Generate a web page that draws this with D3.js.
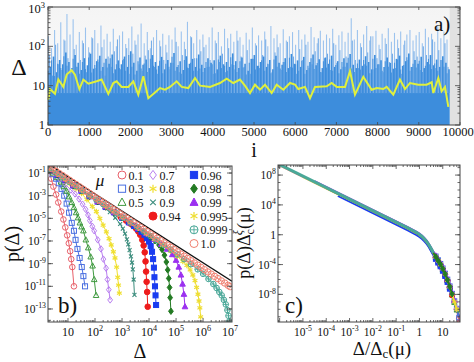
<!DOCTYPE html>
<html>
<head>
<meta charset="utf-8">
<script src="https://cdnjs.cloudflare.com/ajax/libs/d3/7.8.5/d3.min.js"></script>
<style>
body { margin: 0; background: #fff; }
svg { display: block; }
text { font-family: "Liberation Serif", "DejaVu Serif", serif; fill: #111; }
</style>
</head>
<body>
<svg id="chart" width="474" height="362"></svg>
<script>
// ---------------- data ----------------
// panel a: step index i vs Delta
var nSteps = 9750;
var binWidth = 75;
// tallest spike in each bin of 75 steps
var peakVals = [180, 90, 260, 120, 410, 150, 660, 200, 490, 110,
  230, 140, 300, 95, 170, 260, 120, 340, 150, 210,
  130, 280, 100, 190, 240, 115, 160, 320, 140, 200,
  380, 120, 230, 90, 170, 260, 140, 210, 110, 190,
  150, 300, 100, 240, 130, 420, 180, 120, 260, 150,
  200, 110, 170, 300, 140, 230, 100, 280, 160, 210,
  130, 250, 170, 110, 220, 150, 300, 120, 190, 140,
  240, 100, 330, 160, 200, 120, 270, 140, 180, 230,
  110, 260, 150, 200, 130, 310, 170, 120, 250, 140,
  200, 160, 280, 110, 190, 240, 130, 220, 520, 150,
  260, 120, 200, 330, 140, 180, 250, 110, 210, 160,
  290, 130, 220, 150, 240, 110, 200, 260, 140, 190,
  230, 120, 280, 170, 210, 130, 320, 160, 240, 150];
// second-tallest spike in each bin
var subVals = [60, 18, 110, 35, 25, 140, 50, 20, 85, 30,
  45, 120, 22, 70, 160, 28, 40, 95, 18, 55,
  30, 75, 150, 26, 48, 90, 20, 65, 110, 35,
  24, 58, 80, 140, 30, 20, 100, 45, 70, 26,
  38, 130, 22, 60, 85, 28, 170, 50, 24, 75,
  95, 30, 45, 20, 120, 40, 65, 22, 90, 35,
  26, 140, 55, 30, 80, 20, 48, 105, 28, 60,
  150, 35, 22, 70, 95, 25, 40, 130, 30, 55,
  20, 85, 45, 110, 28, 35, 75, 160, 22, 50,
  65, 25, 120, 38, 80, 30, 55, 24, 140, 45,
  28, 95, 35, 70, 180, 26, 50, 85, 22, 115,
  40, 65, 28, 90, 20, 140, 45, 30, 75, 55,
  25, 100, 60, 35, 150, 28, 80, 45, 120, 30];
// typical (dense) spike height in each bin
var midVals = [30, 55, 22, 45, 35, 70, 40, 28, 60, 38,
  25, 50, 33, 65, 27, 42, 58, 30, 48, 36,
  62, 26, 44, 35, 55, 30, 75, 38, 24, 52,
  34, 46, 28, 60, 40, 32, 54, 26, 45, 38,
  68, 30, 42, 25, 56, 36, 48, 30, 62, 34,
  28, 50, 38, 44, 26, 58, 35, 40, 30, 66,
  42, 28, 52, 36, 24, 48, 60, 32, 40, 55,
  30, 45, 26, 58, 38, 34, 50, 28, 64, 36,
  44, 30, 54, 25, 40, 62, 33, 47, 28, 52,
  36, 58, 30, 42, 26, 50, 38, 64, 34, 28,
  46, 32, 56, 40, 26, 60, 35, 44, 30, 52,
  38, 27, 48, 58, 32, 42, 66, 30, 45, 36,
  54, 28, 40, 60, 33, 46, 30, 56, 38, 26];
var baseLevel = 6.5;
// running average (yellow line)
var avgI = [8, 49, 170, 251, 372, 453, 574, 655, 761, 858, 979, 1181, 1302, 1464, 1585, 1666,
  1788, 1950, 2071, 2192, 2314, 2435, 2597, 2718, 2840, 2961, 3123, 3244, 3406, 3568, 3689,
  3811, 3932, 4175, 4337, 4498, 4660, 4780, 4903, 5024, 5146, 5267, 5429, 5550, 5712, 5874,
  5995, 6075, 6238, 6359, 6480, 6764, 6885, 7007, 7209, 7330, 7451, 7653, 7856, 7977, 8138,
  8220, 8381, 8543, 8665, 8786, 8988, 9191, 9312, 9353, 9474, 9555, 9636, 9717];
var avgVal = [4.4, 8.2, 6.2, 14.3, 9.3, 19.1, 24.6, 19.1, 8.2, 14.3, 11.2, 12.9, 14.3, 6.2, 11.7, 12.9,
  9.3, 9.3, 12.9, 5.9, 17.3, 4.8, 6.7, 8.7, 7.9, 9.3, 12.9, 9.3, 8.7, 15.7, 10,
  9.6, 9.3, 11.7, 15.1, 11.7, 14.3, 10, 6.5, 10.6, 7.9, 10.6, 6.5, 10.6, 7.9, 11.7,
  10.6, 8.2, 9.3, 4.8, 9.3, 9.6, 11.7, 9.3, 9.3, 23.3, 5.9, 16.7, 7.9, 8.7, 8.2,
  9.3, 5.9, 14.3, 8.2, 11.7, 10.6, 10.6, 12.2, 6.5, 15.7, 7.2, 9.3, 2.9];

// panel b: [log10 Delta, log10 p(Delta)] for each mu
var muLabels = ["0.1", "0.3", "0.5", "0.7", "0.8", "0.9", "0.94", "0.96", "0.98", "0.99", "0.995", "0.999", "1.0"];
var mu01 = [[0.3,-0.8],[0.38,-1.5],[0.46,-2.2],[0.56,-2.9],[0.64,-3.6],[0.75,-4.4],[0.83,-5.1],[0.9,-5.8],
  [0.97,-6.5],[1.03,-7.2],[1.08,-7.9],[1.12,-8.6],[1.16,-9.3],[1.22,-11.0]];
var mu03 = [[0.3,-0.7],[0.43,-1.1],[0.56,-1.5],[0.66,-1.9],[0.76,-2.4],[0.86,-3.0],[0.95,-3.7],[1.04,-4.5],
  [1.14,-5.4],[1.22,-6.1],[1.28,-6.9],[1.35,-7.7],[1.43,-8.5],[1.51,-9.3],[1.57,-10.1],[1.63,-11.0]];
var mu05 = [[0.3,-0.7],[0.45,-1.0],[0.6,-1.4],[0.74,-1.8],[0.85,-2.2],[0.95,-2.6],[1.04,-3.1],[1.14,-3.6],
  [1.22,-4.05],[1.3,-4.5],[1.37,-4.95],[1.44,-5.4],[1.5,-5.75],[1.57,-6.1],[1.66,-6.9],[1.75,-7.6],
  [1.84,-8.4],[1.91,-9.2],[1.97,-10.4],[2.04,-11.8]];
var mu07 = [[0.3,-0.7],[0.5,-1.05],[0.7,-1.5],[0.9,-2.0],[1.11,-2.5],[1.26,-2.85],[1.41,-3.3],[1.54,-3.75],
  [1.65,-4.2],[1.74,-4.7],[1.81,-5.2],[1.9,-5.7],[1.97,-6.1],[2.1,-6.9],[2.22,-7.7],[2.31,-8.6],
  [2.41,-9.4],[2.46,-10.4],[2.51,-11.3],[2.56,-12.2]];
var mu08 = [[0.3,-0.7],[0.55,-1.1],[0.8,-1.5],[1.05,-1.92],[1.3,-2.38],[1.5,-2.8],[1.7,-3.35],[1.9,-3.95],
  [2.05,-4.4],[2.18,-5.0],[2.3,-5.6],[2.42,-6.2],[2.52,-6.8],[2.6,-7.35],[2.68,-7.95],[2.74,-8.5],
  [2.8,-9.3],[2.84,-10.2],[2.87,-10.9],[2.9,-11.6]];
var mu09 = [[0.3,-0.7],[0.6,-1.15],[0.9,-1.62],[1.2,-2.1],[1.5,-2.58],[1.8,-3.07],[2.1,-3.57],[2.35,-4.02],
  [2.55,-4.45],[2.75,-4.95],[2.93,-5.5],[3.03,-5.9],[3.11,-6.35],[3.18,-6.85],[3.23,-7.3],[3.28,-7.8],
  [3.33,-8.35],[3.37,-8.9],[3.4,-9.5],[3.43,-10.4],[3.46,-11.75]];
var mu094 = [[0.3,-0.7],[0.6,-1.15],[0.9,-1.62],[1.2,-2.1],[1.5,-2.57],[1.8,-3.05],[2.1,-3.52],[2.4,-4.0],
  [2.7,-4.47],[2.95,-4.88],[3.15,-5.2],[3.3,-5.45],[3.42,-5.68],[3.52,-5.9],[3.6,-6.15],[3.67,-6.45],
  [3.75,-6.9],[3.8,-7.4],[3.84,-8.0],[3.87,-8.8],[3.89,-9.7],[3.91,-10.6],[3.93,-11.5],[3.95,-12.8]];
var mu096 = [[0.3,-0.7],[0.6,-1.15],[0.9,-1.62],[1.2,-2.1],[1.5,-2.57],[1.8,-3.05],[2.1,-3.52],[2.4,-4.0],
  [2.7,-4.47],[3.0,-4.95],[3.25,-5.35],[3.45,-5.68],[3.6,-5.95],[3.72,-6.2],[3.83,-6.45],[3.92,-6.75],
  [4.0,-7.05],[4.06,-7.45],[4.11,-7.95],[4.15,-8.6],[4.18,-9.35],[4.2,-10.2],[4.22,-11.0],[4.24,-11.8],[4.26,-12.65]];
var mu098 = [[0.3,-0.7],[0.6,-1.15],[0.9,-1.62],[1.2,-2.1],[1.5,-2.57],[1.8,-3.05],[2.1,-3.52],[2.4,-4.0],
  [2.7,-4.47],[3.0,-4.95],[3.3,-5.42],[3.6,-5.9],[3.85,-6.3],[4.05,-6.65],[4.22,-6.98],[4.37,-7.35],
  [4.48,-7.75],[4.57,-8.25],[4.64,-8.85],[4.69,-9.55],[4.73,-10.3],[4.76,-11.1],[4.78,-12.0],[4.81,-13.2]];
var mu099 = [[0.3,-0.68],[0.6,-1.13],[0.9,-1.6],[1.2,-2.07],[1.5,-2.55],[1.8,-3.02],[2.1,-3.5],[2.4,-3.97],
  [2.7,-4.45],[3.0,-4.92],[3.3,-5.4],[3.6,-5.87],[3.9,-6.35],[4.2,-6.85],[4.45,-7.28],[4.67,-7.72],
  [4.86,-8.2],[5.0,-8.7],[5.1,-9.3],[5.18,-10.0],[5.24,-10.8],[5.29,-11.7],[5.33,-12.8]];
var mu0995 = [[0.3,-0.65],[0.6,-1.1],[0.9,-1.57],[1.2,-2.05],[1.5,-2.52],[1.8,-3.0],[2.1,-3.47],[2.4,-3.95],
  [2.7,-4.42],[3.0,-4.9],[3.3,-5.38],[3.6,-5.86],[3.9,-6.35],[4.2,-6.85],[4.5,-7.36],[4.8,-7.88],
  [5.05,-8.35],[5.25,-8.8],[5.4,-9.15],[5.52,-9.55],[5.62,-10.0],[5.7,-10.5],[5.76,-11.1],[5.81,-11.7],
  [5.85,-12.3],[5.88,-12.9],[5.91,-13.7]];
var mu0999 = [[0.3,-0.6],[0.55,-1.0],[0.8,-1.38],[1.05,-1.78],[1.3,-2.17],[1.55,-2.57],[1.8,-2.96],[2.05,-3.36],
  [2.3,-3.75],[2.55,-4.15],[2.8,-4.55],[3.05,-4.95],[3.3,-5.35],[3.55,-5.75],[3.8,-6.15],[4.05,-6.55],
  [4.3,-6.95],[4.55,-7.35],[4.8,-7.76],[5.05,-8.18],[5.3,-8.6],[5.55,-9.05],[5.8,-9.5],[6.0,-9.9],
  [6.2,-10.35],[6.38,-10.8],[6.5,-11.15],[6.6,-11.5],[6.69,-11.8],[6.77,-12.2],[6.84,-12.6],[6.9,-13.1],
  [6.94,-13.6],[6.97,-14.1]];
var mu10 = [[0.3,-0.44],[0.425,-0.64],[0.55,-0.84],[0.675,-1.04],[0.8,-1.23],[0.925,-1.43],[1.05,-1.63],
  [1.175,-1.83],[1.3,-2.02],[1.425,-2.22],[1.55,-2.42],[1.675,-2.62],[1.8,-2.81],[1.925,-3.01],[2.05,-3.21],
  [2.175,-3.41],[2.3,-3.6],[2.425,-3.8],[2.55,-4.0],[2.675,-4.2],[2.8,-4.39],[2.925,-4.59],[3.05,-4.79],
  [3.175,-4.99],[3.3,-5.18],[3.425,-5.38],[3.55,-5.58],[3.675,-5.78],[3.8,-5.97],[3.925,-6.17],[4.05,-6.37],
  [4.175,-6.57],[4.3,-6.76],[4.425,-6.96],[4.55,-7.16],[4.675,-7.36],[4.8,-7.55],[4.925,-7.75],[5.05,-7.95],
  [5.175,-8.15],[5.3,-8.34],[5.425,-8.54],[5.55,-8.74],[5.675,-8.94],[5.8,-9.13],[5.925,-9.33],[6.05,-9.53],
  [6.175,-9.73],[6.3,-9.92],[6.425,-10.12],[6.55,-10.32],[6.675,-10.52],[6.8,-10.71],[6.925,-10.91],[7.0,-11.03]];
var bSeries = [mu01, mu03, mu05, mu07, mu08, mu09, mu094, mu096, mu098, mu099, mu0995, mu0999, mu10];
// black reference power law (log10 Delta, log10 p)
var powerLaw = [[0.26, -0.2], [7.07, -10.55]];

// panel c: collapsed master curve (log10 x, log10 y)
var masterX = [-6.06, -5.5, -5, -4.5, -4, -3.5, -3, -2.5, -2, -1.5, -1, -0.5, -0.3, -0.12, 0, 0.1, 0.2,
  0.3, 0.4, 0.5, 0.6, 0.7, 0.8, 0.9, 1.0, 1.1, 1.2, 1.3, 1.4, 1.5, 1.6, 1.7, 1.74];
var masterY = [9.39, 8.53, 7.76, 6.99, 6.22, 5.45, 4.68, 3.91, 3.14, 2.37, 1.6, 0.83, 0.5, 0.2, -0.05, -0.3, -0.6,
  -0.95, -1.4, -1.95, -2.5, -3.0, -3.5, -4.0, -4.6, -5.3, -6.1, -7.0, -8.0, -9.0, -10.0, -11.2, -11.7];
// log10 x range covered by each mu, and its small vertical spread
var cStart = [-0.3, -0.5, -1, -1.5, -2, -2.5, -3, -3.5, -4, -4.5, -5, -6.06, -6.06];
var cEnd = [1.74, 1.7, 1.6, 1.6, 1.5, 1.5, 1.4, 1.3, 1.4, 1.5, 1.6, 0.6, 1.74];
var cOffset = [0, 0.1, -0.1, 0.15, 0.05, -0.05, -0.1, -0.25, 0.05, 0.2, 0, 0.1, 0];

// ---------------- styles ----------------
var styles = [
  {c: "#e8606a", m: "circle", f: false},
  {c: "#4a6fe0", m: "square", f: false},
  {c: "#3f9a3f", m: "triangle", f: false},
  {c: "#b97ff0", m: "diamond", f: false},
  {c: "#f0e030", m: "asterisk", f: false},
  {c: "#3a8c7c", m: "x", f: false},
  {c: "#ee1c1c", m: "circle", f: true},
  {c: "#1a3cf0", m: "square", f: true},
  {c: "#237a23", m: "diamond", f: true},
  {c: "#9b30f0", m: "triangle", f: true},
  {c: "#eedd30", m: "asterisk", f: false},
  {c: "#4aa898", m: "oplus", f: false},
  {c: "#f08070", m: "circle", f: false}
];
var legendCol = [0, 0, 0, 1, 1, 1, 1, 2, 2, 2, 2, 2, 2];
var legendRow = [0, 1, 2, 0, 1, 2, 3, 0, 1, 2, 3, 4, 5];

var svg = d3.select("#chart");
var defs = svg.append("defs");
var grad = defs.append("linearGradient").attr("id", "bgA").attr("x1", 0).attr("y1", 0).attr("x2", 0).attr("y2", 1);
grad.append("stop").attr("offset", "0%").attr("stop-color", "#f4f4f4");
grad.append("stop").attr("offset", "100%").attr("stop-color", "#ffffff");

function clip(id, x, y, w, h) {
  defs.append("clipPath").attr("id", id).append("rect").attr("x", x).attr("y", y).attr("width", w).attr("height", h);
}

function powLabel(g, x, y, e, anchor, size) {
  var t = g.append("text").attr("x", x).attr("y", y).attr("text-anchor", anchor).attr("font-size", size);
  if (e === 0) { t.text("1"); return; }
  if (e === 1) { t.text("10"); return; }
  t.append("tspan").text("10");
  t.append("tspan").attr("dy", -size * 0.42).attr("font-size", size * 0.68).text(e < 0 ? "-" + (-e) : "" + e);
}

function marker(g, type, x, y, r, color, filled) {
  var fill = filled ? color : "none";
  if (type === "circle") {
    g.append("circle").attr("cx", x).attr("cy", y).attr("r", r).attr("fill", fill).attr("stroke", color).attr("stroke-width", 1);
  } else if (type === "square") {
    g.append("rect").attr("x", x - r * 0.9).attr("y", y - r * 0.9).attr("width", r * 1.8).attr("height", r * 1.8)
      .attr("fill", fill).attr("stroke", color).attr("stroke-width", 1);
  } else if (type === "triangle") {
    g.append("path").attr("d", "M" + x + "," + (y - r * 1.1) + "L" + (x + r) + "," + (y + r * 0.75) + "L" + (x - r) + "," + (y + r * 0.75) + "Z")
      .attr("fill", fill).attr("stroke", color).attr("stroke-width", 1);
  } else if (type === "diamond") {
    g.append("path").attr("d", "M" + x + "," + (y - r * 1.15) + "L" + (x + r * 0.85) + "," + y + "L" + x + "," + (y + r * 1.15) + "L" + (x - r * 0.85) + "," + y + "Z")
      .attr("fill", fill).attr("stroke", color).attr("stroke-width", 1);
  } else if (type === "asterisk") {
    [90, 30, -30].forEach(function(a) {
      var dx = r * Math.cos(a * Math.PI / 180), dy = r * Math.sin(a * Math.PI / 180);
      g.append("line").attr("x1", x - dx).attr("y1", y - dy).attr("x2", x + dx).attr("y2", y + dy)
        .attr("stroke", color).attr("stroke-width", 1.2);
    });
  } else if (type === "x") {
    [45, -45].forEach(function(a) {
      var dx = r * Math.cos(a * Math.PI / 180), dy = r * Math.sin(a * Math.PI / 180);
      g.append("line").attr("x1", x - dx).attr("y1", y - dy).attr("x2", x + dx).attr("y2", y + dy)
        .attr("stroke", color).attr("stroke-width", 1.1);
    });
  } else if (type === "oplus") {
    g.append("circle").attr("cx", x).attr("cy", y).attr("r", r).attr("fill", "none").attr("stroke", color).attr("stroke-width", 1);
    g.append("path").attr("d", "M" + (x - r) + "," + y + "H" + (x + r) + "M" + x + "," + (y - r) + "V" + (y + r))
      .attr("stroke", color).attr("stroke-width", 0.9);
  }
}

// inward log ticks on both sides of a frame
function logTicksY(g, scale, x0, x1, e0, e1, minor, majLen) {
  for (var e = e0; e <= e1; e++) {
    var ms = minor ? [1, 2, 3, 4, 5, 6, 7, 8, 9] : [1];
    ms.forEach(function(m) {
      var v = m * Math.pow(10, e);
      var y = scale(v);
      var d = scale.domain();
      if (v < d[0] || v > d[1]) return;
      var len = m === 1 ? majLen : majLen / 2;
      g.append("line").attr("x1", x0).attr("x2", x0 + len).attr("y1", y).attr("y2", y);
      g.append("line").attr("x1", x1).attr("x2", x1 - len).attr("y1", y).attr("y2", y);
    });
  }
}
function logTicksX(g, scale, y0, y1, e0, e1, minor, majLen) {
  for (var e = e0; e <= e1; e++) {
    var ms = minor ? [1, 2, 3, 4, 5, 6, 7, 8, 9] : [1];
    ms.forEach(function(m) {
      var v = m * Math.pow(10, e);
      var x = scale(v);
      var d = scale.domain();
      if (v < d[0] || v > d[1]) return;
      var len = m === 1 ? majLen : majLen / 2;
      g.append("line").attr("y1", y1).attr("y2", y1 - len).attr("x1", x).attr("x2", x);
      g.append("line").attr("y1", y0).attr("y2", y0 + len).attr("x1", x).attr("x2", x);
    });
  }
}

// ---------------- panel a ----------------
var A = {x0: 48, x1: 460, y0: 7, y1: 125};
var ax = d3.scaleLinear().domain([0, 10000]).range([A.x0, A.x1]);
var ay = d3.scaleLog().domain([1, 1000]).range([A.y1, A.y0]);
var ga = svg.append("g");
ga.append("rect").attr("x", A.x0).attr("y", A.y0).attr("width", A.x1 - A.x0).attr("height", A.y1 - A.y0).attr("fill", "url(#bgA)");
ga.append("rect").attr("x", ax(nSteps)).attr("y", A.y0).attr("width", ax(10000) - ax(nSteps)).attr("height", A.y1 - A.y0)
  .attr("fill", "#e2e2e2");
ga.append("rect").attr("x", ax(0)).attr("y", ay(baseLevel)).attr("width", ax(nSteps) - ax(0)).attr("height", ay(1) - ay(baseLevel))
  .attr("fill", "#3d8ddc");
// tallest spikes (light), drawn first so denser layers sit on top
ga.selectAll("line.peak").data(peakVals).enter().append("line").attr("class", "peak")
  .attr("x1", function(d, k) { return ax(k * binWidth + 10); })
  .attr("x2", function(d, k) { return ax(k * binWidth + 10); })
  .attr("y1", ay(baseLevel)).attr("y2", function(d) { return ay(d); })
  .attr("stroke", "#9cc3ee").attr("stroke-width", 1.1);
ga.selectAll("line.sub").data(subVals).enter().append("line").attr("class", "sub")
  .attr("x1", function(d, k) { return ax(k * binWidth + 35); })
  .attr("x2", function(d, k) { return ax(k * binWidth + 35); })
  .attr("y1", ay(baseLevel)).attr("y2", function(d) { return ay(d); })
  .attr("stroke", "#6aa6e6").attr("stroke-width", 1);
ga.selectAll("line.mid").data(midVals).enter().append("line").attr("class", "mid")
  .attr("x1", function(d, k) { return ax(k * binWidth + 58); })
  .attr("x2", function(d, k) { return ax(k * binWidth + 58); })
  .attr("y1", ay(baseLevel)).attr("y2", function(d) { return ay(d); })
  .attr("stroke", "#3d8ddc").attr("stroke-width", 1.6);
// lower halves of the tall spikes look as dense as the body
ga.selectAll("line.peakLow").data(peakVals).enter().append("line").attr("class", "peakLow")
  .attr("x1", function(d, k) { return ax(k * binWidth + 10); })
  .attr("x2", function(d, k) { return ax(k * binWidth + 10); })
  .attr("y1", ay(baseLevel)).attr("y2", function(d, k) { return ay(Math.min(d, midVals[k] * 0.8)); })
  .attr("stroke", "#4792de").attr("stroke-width", 1.1);
var avgLine = d3.line().x(function(d, k) { return ax(avgI[k]); }).y(function(d) { return ay(d); });
ga.append("path").datum(avgVal).attr("d", avgLine).attr("fill", "none").attr("stroke", "#e0f03c").attr("stroke-width", 2);

var ta = svg.append("g").attr("stroke", "#444").attr("stroke-width", 0.8);
d3.range(0, 10001, 1000).forEach(function(v) {
  ta.append("line").attr("x1", ax(v)).attr("x2", ax(v)).attr("y1", A.y0).attr("y2", A.y0 + 3);
  ta.append("line").attr("x1", ax(v)).attr("x2", ax(v)).attr("y1", A.y1).attr("y2", A.y1 - 3);
});
logTicksY(ta, ay, A.x0, A.x1, 0, 3, true, 5);
svg.append("rect").attr("x", A.x0).attr("y", A.y0).attr("width", A.x1 - A.x0).attr("height", A.y1 - A.y0)
  .attr("fill", "none").attr("stroke", "#444").attr("stroke-width", 1);
d3.range(0, 10001, 1000).forEach(function(v) {
  svg.append("text").attr("x", v === 10000 ? ax(v) - 2 : ax(v)).attr("y", 136).attr("text-anchor", "middle")
    .attr("font-size", 12.5).text(v);
});
[0, 1, 2, 3].forEach(function(e) { powLabel(svg, 45, ay(Math.pow(10, e)) + (e === 3 ? 6 : 4), e, "end", 12.5); });
svg.append("text").attr("x", 19).attr("y", 75).attr("text-anchor", "middle").attr("font-size", 24).text("\u0394");
svg.append("text").attr("x", 254).attr("y", 157).attr("text-anchor", "middle").attr("font-size", 20).text("i");
svg.append("text").attr("x", 434).attr("y", 31).attr("font-size", 21).text("a)");

// ---------------- panel b ----------------
var B = {x0: 48, x1: 232, y0: 166, y1: 322};
var bx = d3.scaleLog().domain([Math.pow(10, 0.26), Math.pow(10, 7.07)]).range([B.x0, B.x1]);
var by = d3.scaleLog().domain([Math.pow(10, -14.15), Math.pow(10, -0.38)]).range([B.y1, B.y0]);
clip("clipB", B.x0, B.y0, B.x1 - B.x0, B.y1 - B.y0);
var gb = svg.append("g").attr("clip-path", "url(#clipB)");
var bLine = d3.line().x(function(d) { return bx(Math.pow(10, d[0])); }).y(function(d) { return by(Math.pow(10, d[1])); });
gb.append("path").datum(powerLaw).attr("d", bLine).attr("stroke", "#111").attr("stroke-width", 1.4).attr("fill", "none");
bSeries.forEach(function(s, k) {
  var st = styles[k];
  gb.append("path").datum(s).attr("d", bLine).attr("fill", "none").attr("stroke", st.c).attr("stroke-width", 1);
  var gm = gb.append("g");
  s.forEach(function(d) {
    marker(gm, st.m, bx(Math.pow(10, d[0])), by(Math.pow(10, d[1])), k === 12 ? 3.2 : 2.8, st.c, st.f);
  });
});
var tb = svg.append("g").attr("stroke", "#444").attr("stroke-width", 0.8);
logTicksX(tb, bx, B.y0, B.y1, 0, 7, true, 4);
logTicksY(tb, by, B.x0, B.x1, -14, -1, false, 3);
[-13, -11, -9, -7, -5, -3, -1].forEach(function(e) {
  var y = by(Math.pow(10, e));
  tb.append("line").attr("x1", B.x0).attr("x2", B.x0 + 5).attr("y1", y).attr("y2", y);
  tb.append("line").attr("x1", B.x1).attr("x2", B.x1 - 5).attr("y1", y).attr("y2", y);
});
svg.append("rect").attr("x", B.x0).attr("y", B.y0).attr("width", B.x1 - B.x0).attr("height", B.y1 - B.y0)
  .attr("fill", "none").attr("stroke", "#444").attr("stroke-width", 1);
[-13, -11, -9, -7, -5, -3, -1].forEach(function(e) { powLabel(svg, 46, by(Math.pow(10, e)) + 4, e, "end", 11.5); });
[1, 2, 3, 4, 5, 6, 7].forEach(function(e) { powLabel(svg, bx(Math.pow(10, e)), 336, e, "middle", 12); });
svg.append("text").attr("x", 140).attr("y", 357.5).attr("text-anchor", "middle").attr("font-size", 20).text("\u0394");
svg.append("text").attr("transform", "translate(19,244) rotate(-90)").attr("text-anchor", "middle").attr("font-size", 20).text("p(\u0394)");
svg.append("text").attr("x", 58).attr("y", 313).attr("font-size", 23).text("b)");
// legend
svg.append("text").attr("x", 100).attr("y", 186).attr("text-anchor", "middle").attr("font-size", 17)
  .attr("font-style", "italic").text("\u03bc");
var legX = [122, 153, 194];
muLabels.forEach(function(lab, k) {
  var x = legX[legendCol[k]], y = 175 + legendRow[k] * 13.7;
  marker(svg, styles[k].m, x, y, 4, styles[k].c, styles[k].f);
  svg.append("text").attr("x", x + 6.5).attr("y", y + 4.5).attr("font-size", 12).text(lab);
});

// ---------------- panel c ----------------
var C = {x0: 278, x1: 460, y0: 165, y1: 322};
var cx = d3.scaleLog().domain([Math.pow(10, -6.07), Math.pow(10, 1.74)]).range([C.x0, C.x1]);
var cy = d3.scaleLog().domain([Math.pow(10, -11.7), Math.pow(10, 9.35)]).range([C.y1, C.y0]);
clip("clipC", C.x0, C.y0, C.x1 - C.x0, C.y1 - C.y0);
var gc = svg.append("g").attr("clip-path", "url(#clipC)");
var order = [12, 0, 1, 2, 3, 4, 5, 6, 7, 9, 10, 8, 11];
order.forEach(function(k) {
  var st = styles[k];
  var pts = [];
  masterX.forEach(function(x, j) {
    if (x >= cStart[k] && x <= cEnd[k]) pts.push([x, masterY[j] + cOffset[k]]);
  });
  var cLine = d3.line().x(function(d) { return cx(Math.pow(10, d[0])); }).y(function(d) { return cy(Math.pow(10, d[1])); });
  gc.append("path").datum(pts).attr("d", cLine).attr("fill", "none").attr("stroke", st.c)
    .attr("stroke-width", k === 11 ? 3 : 2);
  pts.forEach(function(d) {
    if (d[0] > 0.6) marker(gc, st.m, cx(Math.pow(10, d[0])), cy(Math.pow(10, d[1])), 2.6, st.c, st.f);
  });
});
var tc = svg.append("g").attr("stroke", "#444").attr("stroke-width", 0.8);
logTicksX(tc, cx, C.y0, C.y1, -7, 1, true, 4);
logTicksY(tc, cy, C.x0, C.x1, -12, 9, false, 2.5);
[-8, -4, 0, 4, 8].forEach(function(e) {
  var y = cy(Math.pow(10, e));
  tc.append("line").attr("x1", C.x0).attr("x2", C.x0 + 5).attr("y1", y).attr("y2", y);
  tc.append("line").attr("x1", C.x1).attr("x2", C.x1 - 5).attr("y1", y).attr("y2", y);
});
svg.append("rect").attr("x", C.x0).attr("y", C.y0).attr("width", C.x1 - C.x0).attr("height", C.y1 - C.y0)
  .attr("fill", "none").attr("stroke", "#444").attr("stroke-width", 1);
[-8, -4, 0, 4, 8].forEach(function(e) { powLabel(svg, 276, cy(Math.pow(10, e)) + 4, e, "end", 11.5); });
[-5, -4, -3, -2, -1, 0, 1].forEach(function(e) { powLabel(svg, cx(Math.pow(10, e)), 336, e, "middle", 11.5); });
var xt = svg.append("text").attr("x", 382).attr("y", 355).attr("text-anchor", "middle").attr("font-size", 19);
xt.append("tspan").text("\u0394/\u0394");
xt.append("tspan").attr("dy", 3).attr("font-size", 13).text("c");
xt.append("tspan").attr("dy", -3).text("(\u03bc)");
var yt = svg.append("text").attr("transform", "translate(250,243) rotate(-90)").attr("text-anchor", "middle").attr("font-size", 18);
yt.append("tspan").text("p(\u0394)\u0394");
yt.append("tspan").attr("dy", 4).attr("font-size", 12).text("c");
yt.append("tspan").attr("dy", -12).attr("dx", -6).attr("font-size", 12).attr("font-style", "italic").text("\u03be");
yt.append("tspan").attr("dy", 8).attr("dx", 1).text("(\u03bc)");
svg.append("text").attr("x", 285).attr("y", 313).attr("font-size", 23).text("c)");
</script>
</body>
</html>
